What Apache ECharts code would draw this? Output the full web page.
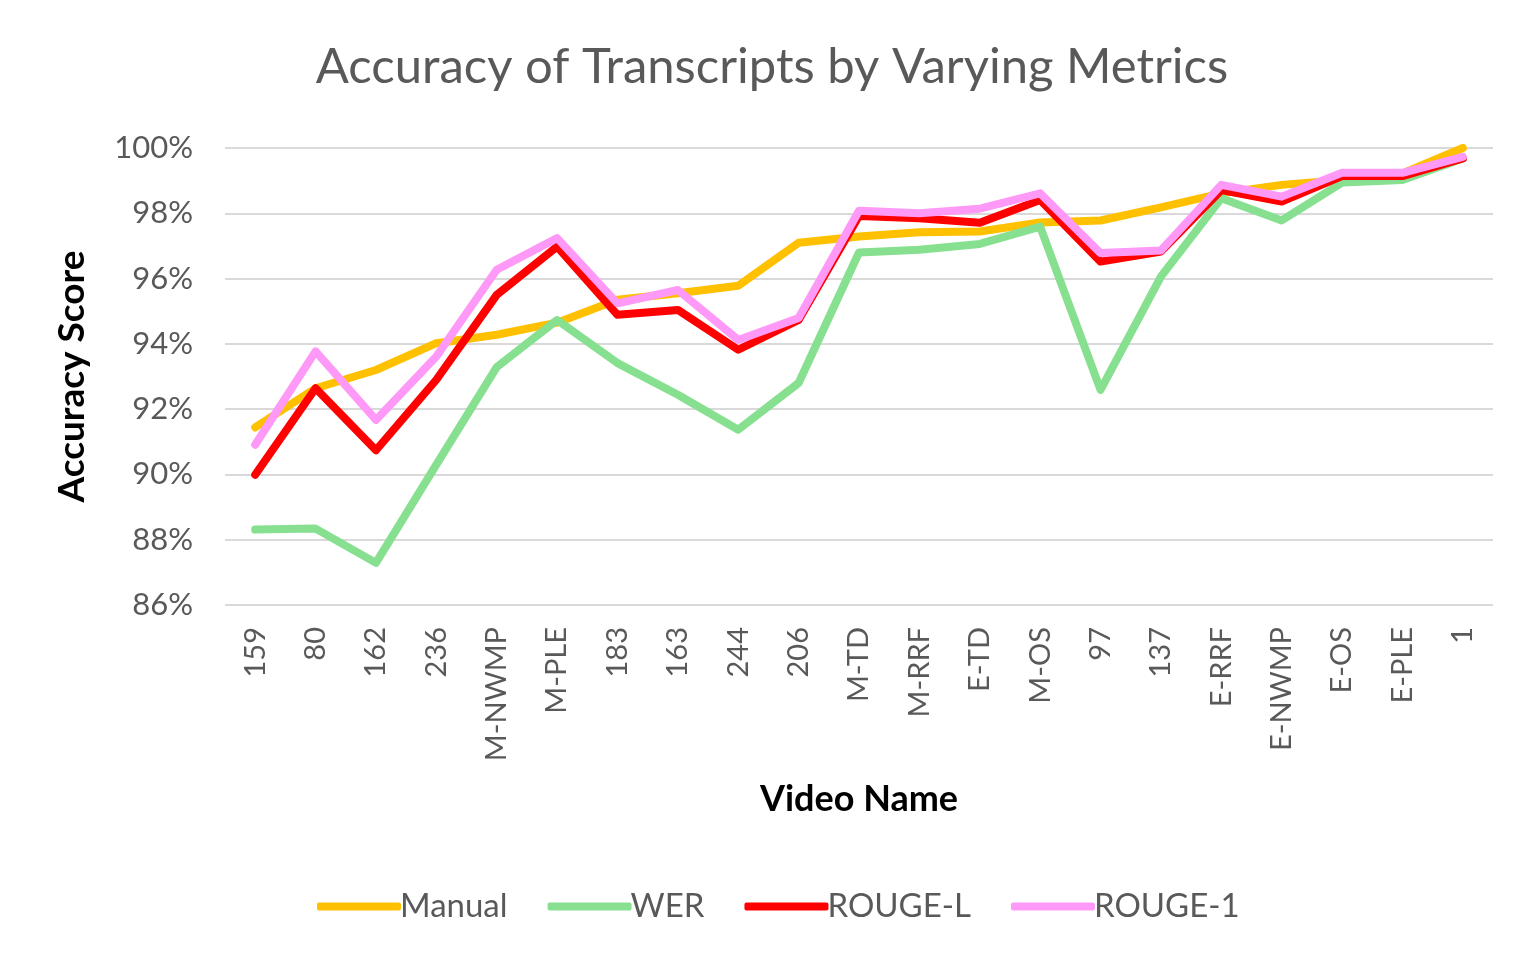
<!DOCTYPE html>
<html><head><meta charset="utf-8">
<script src="https://cdn.jsdelivr.net/npm/echarts@6/dist/echarts.min.js"></script>
<style>html,body{margin:0;padding:0;background:#fff}#c{width:1536px;height:964px}</style>
</head><body><div id="c"></div>
<script>
const categories = ["159","80","162","236","M-NWMP","M-PLE","183","163","244","206","M-TD","M-RRF","E-TD","M-OS","97","137","E-RRF","E-NWMP","E-OS","E-PLE","1"];
const manual = [91.44,92.64,93.20,94.02,94.28,94.65,95.35,95.55,95.78,97.10,97.29,97.42,97.44,97.72,97.78,98.18,98.61,98.87,99.02,99.22,100.0];
const wer = [88.31,88.34,87.29,90.30,93.29,94.73,93.41,92.44,91.37,92.80,96.80,96.88,97.06,97.59,92.59,96.06,98.46,97.78,98.94,99.02,99.68];
const rougeL = [89.99,92.64,90.74,92.90,95.50,96.98,94.89,95.04,93.82,94.73,97.92,97.85,97.71,98.41,96.52,96.83,98.71,98.36,99.14,99.14,99.68];
const rouge1 = [90.91,93.77,91.67,93.61,96.27,97.24,95.24,95.65,94.12,94.79,98.08,98.00,98.14,98.61,96.78,96.86,98.87,98.51,99.24,99.24,99.73];
const yTicks = {min:86, max:100, interval:2};

const FONT = 'Lato';
const chart = echarts.init(document.getElementById('c'), null, {renderer:'canvas'});
function line(name, data, color){
  return {name, type:'line', data, symbol:'none', smooth:false,
    lineStyle:{color, width:8, cap:'round', join:'round'}, itemStyle:{color}};
}
chart.setOption({
  animation:false,
  backgroundColor:'#fff',
  title:{text:'Accuracy of Transcripts by Varying Metrics', left:767, top:38, textAlign:'center',
    textStyle:{fontFamily:FONT, fontSize:49, fontWeight:'normal', color:'#595959'}},
  grid:{left:225, right:43, top:148, bottom:359, containLabel:false},
  legend:{bottom:36, left:312, itemWidth:84, itemHeight:8, itemGap:40,
    icon:'roundRect',
    textStyle:{fontFamily:FONT, fontSize:33, color:'#595959', padding:[0,0,0,-6]},
    data:['Manual','WER','ROUGE-L','ROUGE-1']},
  xAxis:{type:'category', data:categories, boundaryGap:true,
    axisLine:{show:false}, axisTick:{show:false},
    axisLabel:{rotate:90, fontFamily:FONT, fontSize:29, color:'#595959', margin:22, interval:0},
    name:'Video Name', nameLocation:'middle', nameGap:176,
    nameTextStyle:{fontFamily:FONT, fontSize:36, fontWeight:'bold', color:'#000'}},
  yAxis:{type:'value', min:yTicks.min, max:yTicks.max, interval:yTicks.interval,
    axisLine:{show:false}, axisTick:{show:false},
    axisLabel:{formatter:'{value}%', fontFamily:FONT, fontSize:31, color:'#595959', margin:32},
    splitLine:{lineStyle:{color:'#d9d9d9', width:2}},
    name:'Accuracy Score', nameLocation:'middle', nameGap:134,
    nameTextStyle:{fontFamily:FONT, fontSize:37, fontWeight:'bold', color:'#000'}},
  series:[
    line('Manual', manual, '#FFC000'),
    line('WER', wer, '#86E08F'),
    line('ROUGE-L', rougeL, '#FF0000'),
    line('ROUGE-1', rouge1, '#FF99F8')
  ]
});
</script></body></html>
